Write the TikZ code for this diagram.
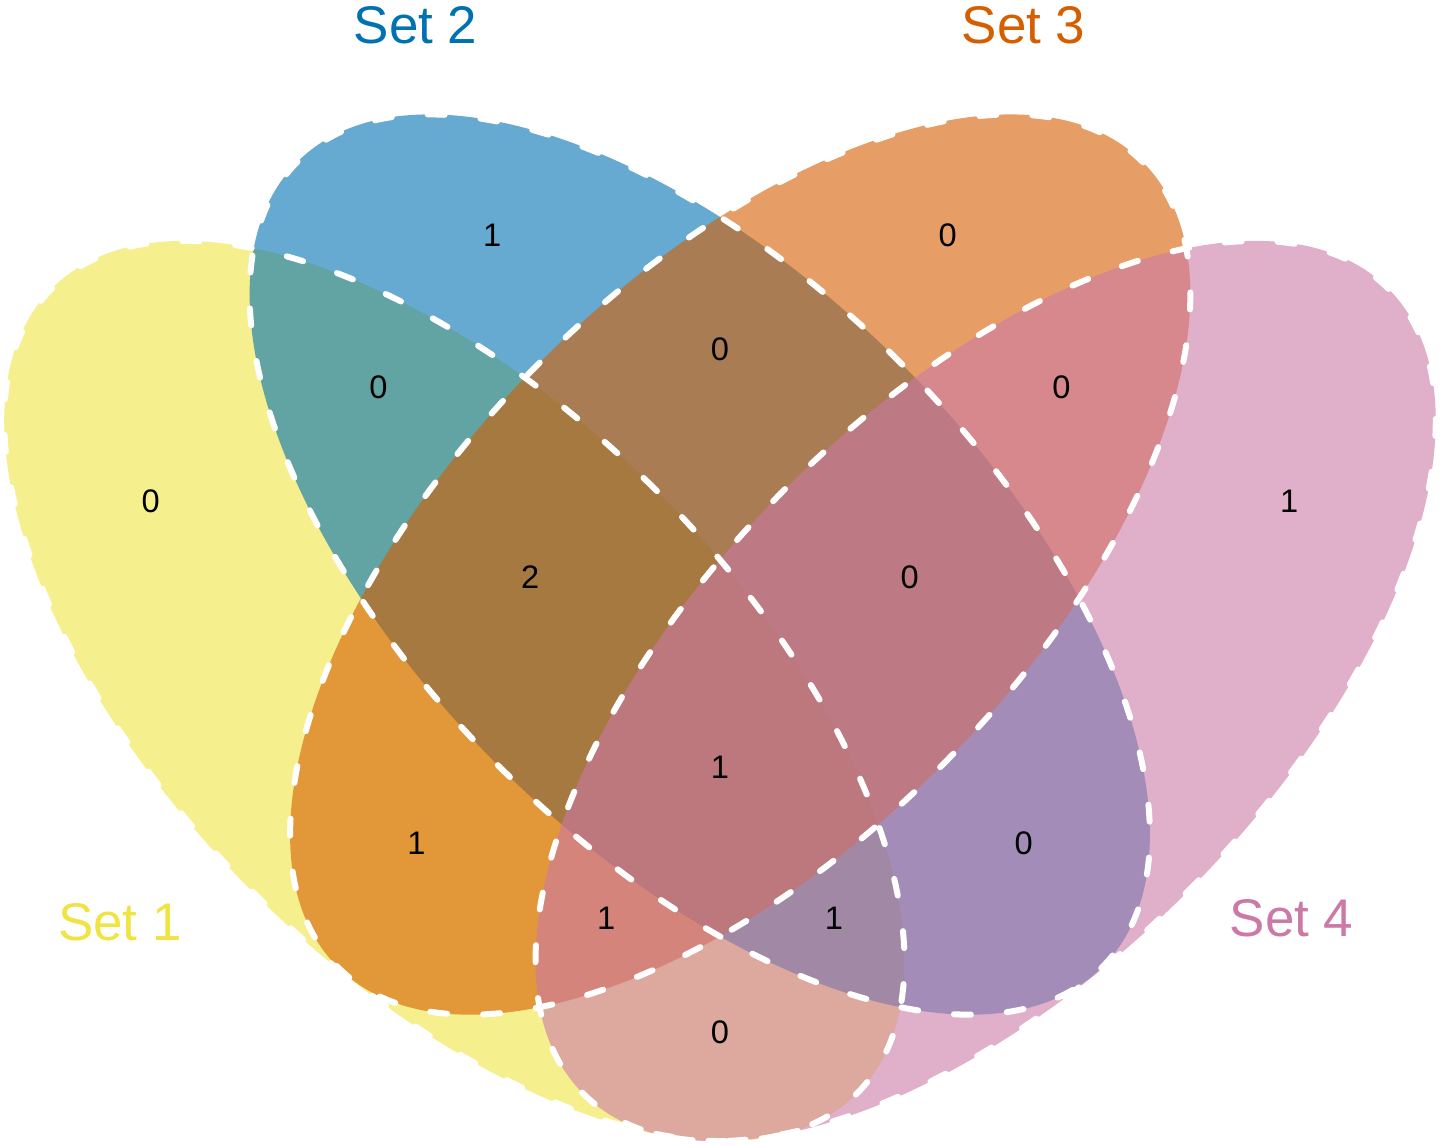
\documentclass[tikz,border=0pt]{standalone}
\usepackage{fontspec}
\setmainfont{Liberation Sans}
\definecolor{setA}{HTML}{F0E442}
\definecolor{setB}{HTML}{0072B2}
\definecolor{setC}{HTML}{D55E00}
\definecolor{setD}{HTML}{CC79A7}
\begin{document}
\begin{tikzpicture}[x=189.75pt,y=189.75pt,
  setfill/.style={fill opacity=0.6},
  setline/.style={draw=white, line width=3pt, dash pattern=on 8.5pt off 18pt, line cap=round},
  count/.style={font=\fontsize{16.3}{18}\selectfont, inner sep=0pt, text=black},
  setlabel/.style={font=\fontsize{26.5}{30}\selectfont, inner sep=0pt}]
\useasboundingbox (-1.89723,-1.69618) rectangle (1.89723,1.32095);
% fills
\fill[setfill, setA, shift={(-0.7,-0.5)}, rotate=45] (0,0) ellipse [x radius=0.75, y radius=1.5];
\fill[setfill, setB, shift={(-0.053333,-0.166667)}, rotate=45] (0,0) ellipse [x radius=0.75, y radius=1.5];
\fill[setfill, setC, shift={(0.053333,-0.166667)}, rotate=-45] (0,0) ellipse [x radius=0.75, y radius=1.5];
\fill[setfill, setD, shift={(0.7,-0.5)}, rotate=-45] (0,0) ellipse [x radius=0.75, y radius=1.5];
% outlines
\draw[setline, shift={(-0.7,-0.5)}, rotate=45] (0,0) ellipse [x radius=0.75, y radius=1.5];
\draw[setline, shift={(-0.053333,-0.166667)}, rotate=45] (0,0) ellipse [x radius=0.75, y radius=1.5];
\draw[setline, shift={(0.053333,-0.166667)}, rotate=-45] (0,0) ellipse [x radius=0.75, y radius=1.5];
\draw[setline, shift={(0.7,-0.5)}, rotate=-45] (0,0) ellipse [x radius=0.75, y radius=1.5];
% counts
\node[count] (nA)    at (-1.5, 0)   {0};
\node[count] (nB)    at (-0.6, 0.7) {1};
\node[count] (nC)    at ( 0.6, 0.7) {0};
\node[count] (nD)    at ( 1.5, 0)   {1};
\node[count] (nAB)   at (-0.9, 0.3) {0};
\node[count] (nBC)   at ( 0,   0.4) {0};
\node[count] (nCD)   at ( 0.9, 0.3) {0};
\node[count] (nAC)   at (-0.8,-0.9) {1};
\node[count] (nBD)   at ( 0.8,-0.9) {0};
\node[count] (nABC)  at (-0.5,-0.2) {2};
\node[count] (nBCD)  at ( 0.5,-0.2) {0};
\node[count] (nACD)  at (-0.3,-1.1) {1};
\node[count] (nABD)  at ( 0.3,-1.1) {1};
\node[count] (nAD)   at ( 0,  -1.4) {0};
\node[count] (nABCD) at ( 0,  -0.7) {1};
% set labels
\node[setlabel, text=setA] (lA) at (-1.581,-1.108) {Set 1};
\node[setlabel, text=setB] (lB) at (-0.802, 1.254) {Set 2};
\node[setlabel, text=setC] (lC) at ( 0.800, 1.254) {Set 3};
\node[setlabel, text=setD] (lD) at ( 1.506,-1.098) {Set 4};
\end{tikzpicture}
\end{document}
